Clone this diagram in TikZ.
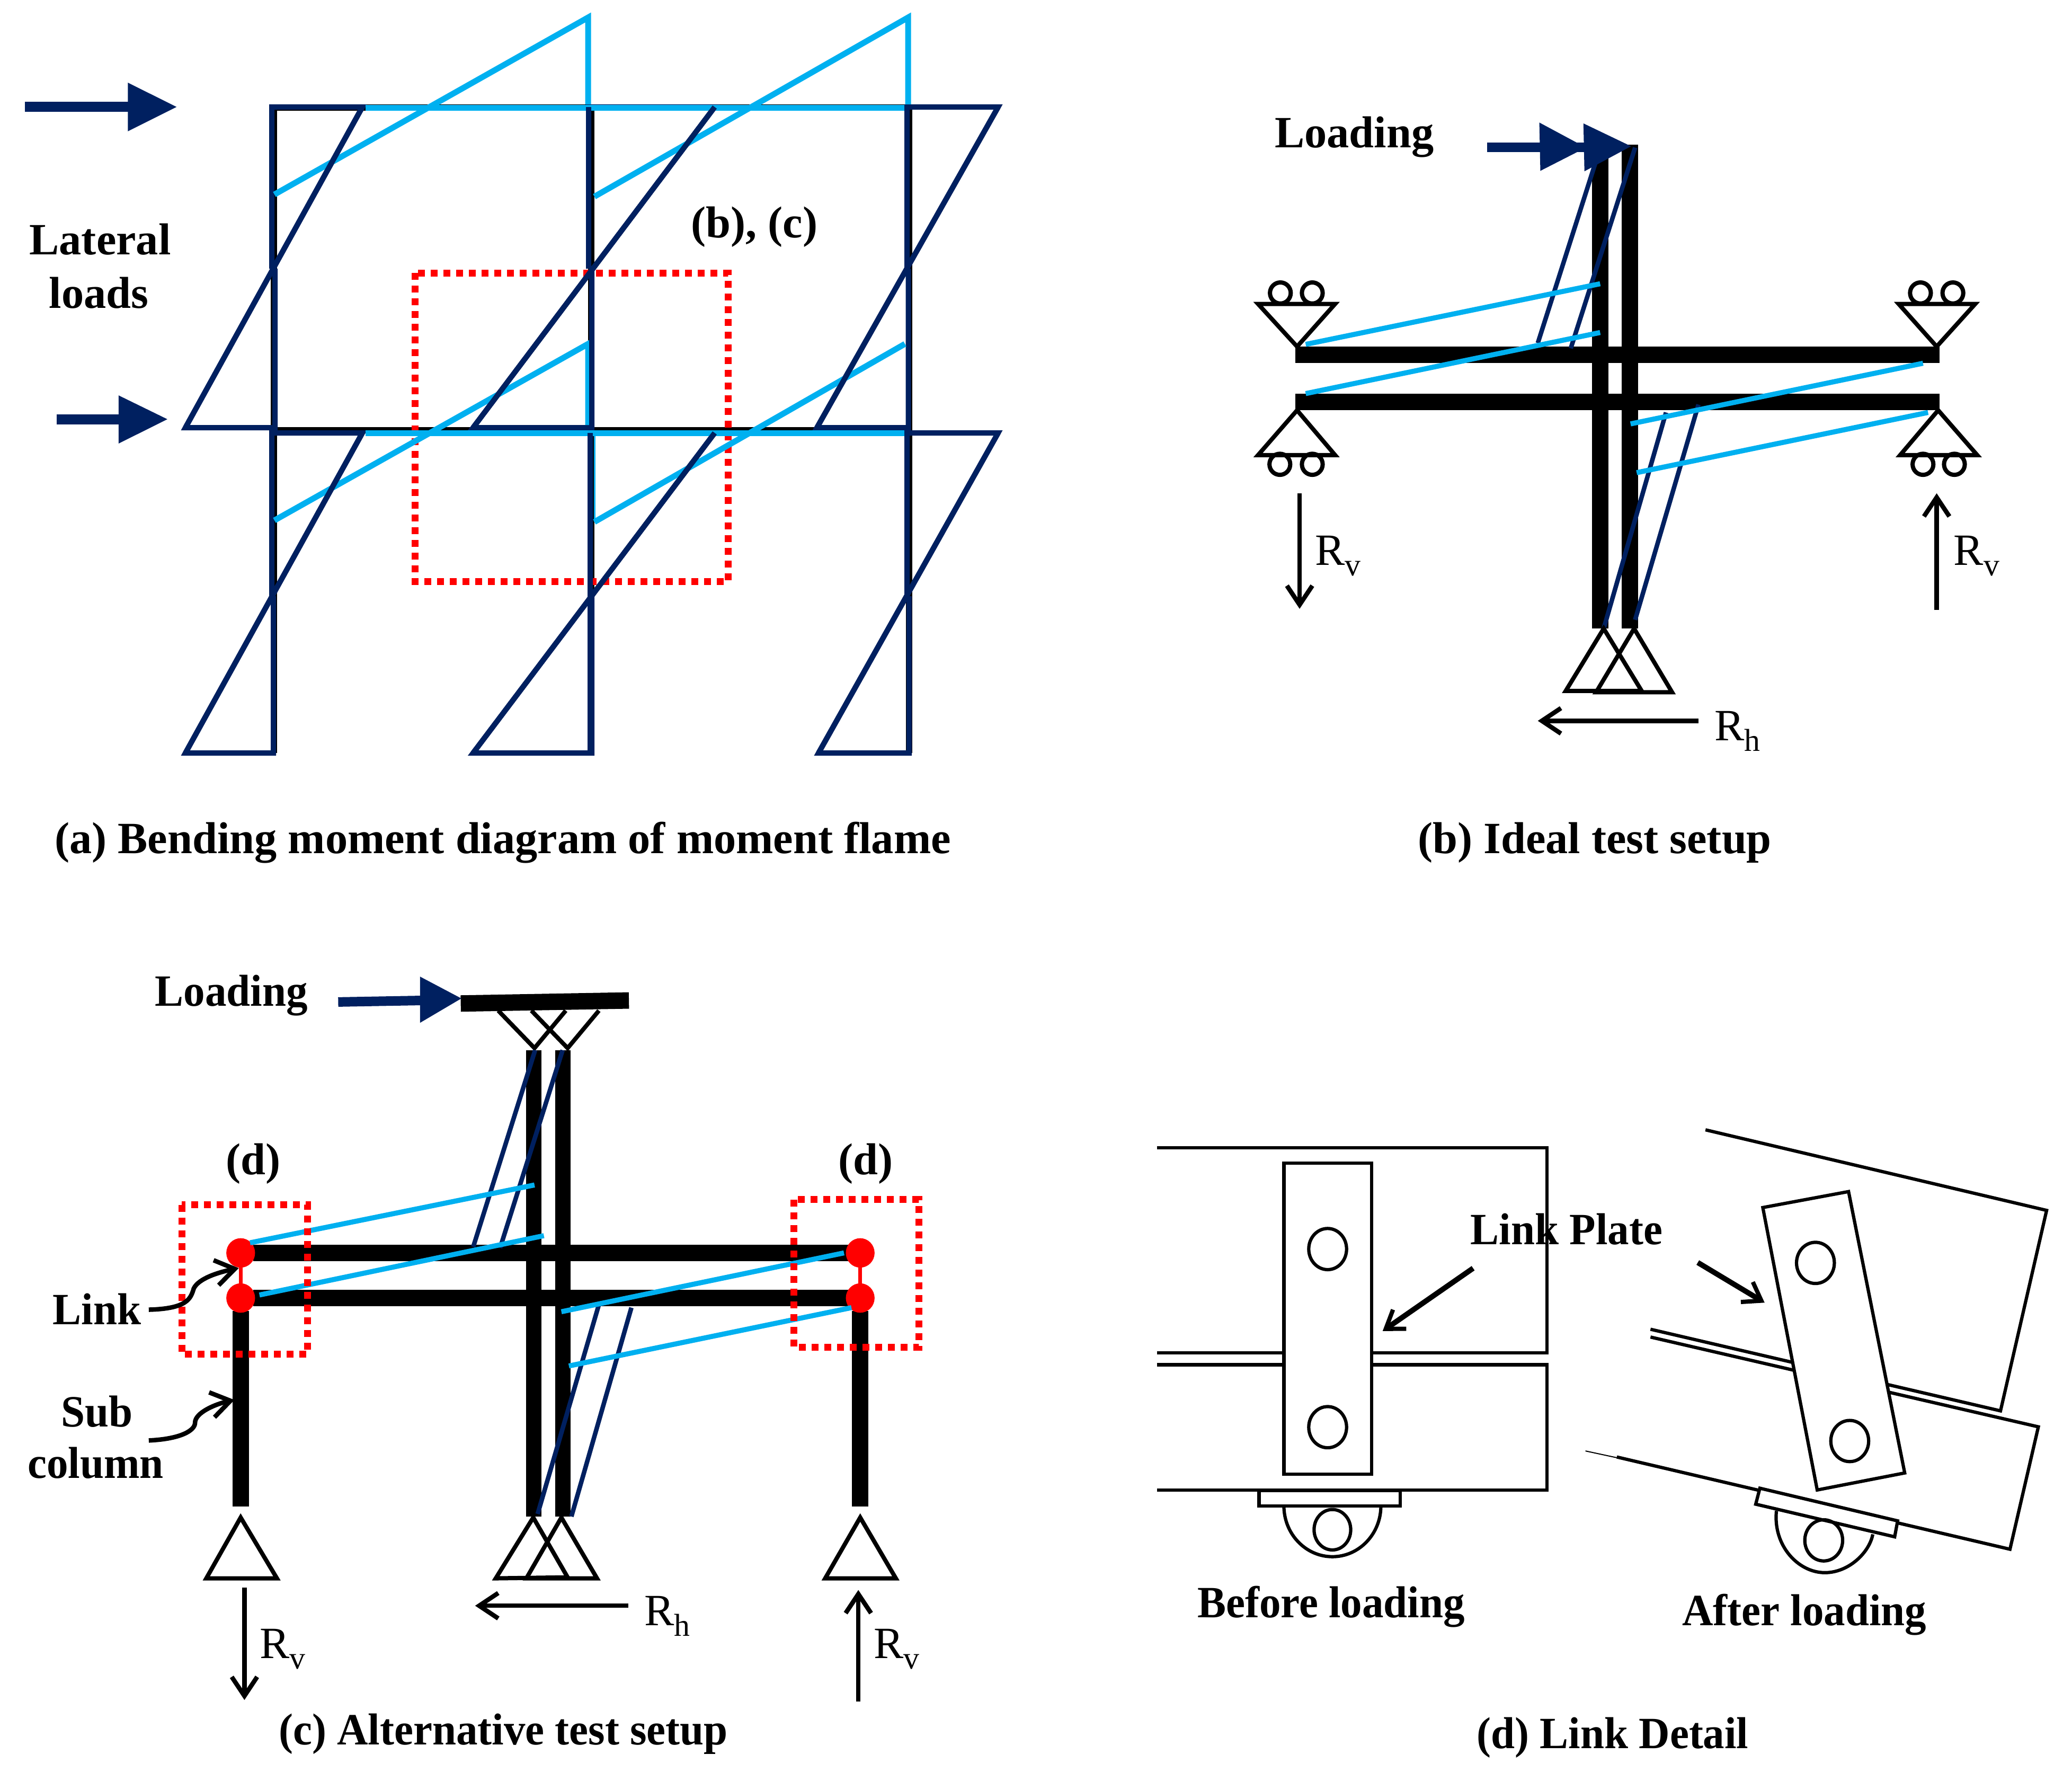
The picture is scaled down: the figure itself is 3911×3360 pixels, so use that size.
\documentclass[tikz,border=0pt]{standalone}
\usepackage{fontspec}
\setmainfont{Liberation Serif}
\usetikzlibrary{arrows.meta}
\definecolor{navy}{HTML}{002060}
\definecolor{sky}{HTML}{00B0F0}
\definecolor{redd}{HTML}{FF0000}
\newcommand{\nar}[1]{\scalebox{0.96}[1]{#1}}
\newcommand{\Rsub}[1]{R\raisebox{-2mm}{\fontsize{17}{17}\selectfont #1}}
\tikzset{
  x=0.1mm,y=-0.1mm,
  navyframe/.style={draw=navy,line width=1.0mm,line join=miter},
  navythin/.style={draw=navy,line width=0.85mm},
  skyline/.style={draw=sky,line width=1.1mm},
  skythin/.style={draw=sky,line width=0.95mm},
  blackframe/.style={draw=black,line width=1.2mm},
  beam/.style={draw=black,line width=3.1mm},
  redbox/.style={draw=redd,line width=1.3mm,dash pattern=on 1.3mm off 1.1mm},
  support/.style={draw=black,line width=0.8mm,line join=miter},
  roller/.style={draw=black,line width=0.8mm},
  react/.style={draw=black,line width=0.85mm,-{Straight Barb[length=3.6mm,width=4.8mm,line width=0.85mm]}},
  thinl/.style={draw=black,line width=0.62mm},
  solidhead/.style={fill=navy,draw=none},
  stem/.style={draw=navy,line width=1.8mm},
  captiontext/.style={font=\fontsize{24}{28}\selectfont\bfseries,inner sep=0pt},
  lab/.style={font=\fontsize{24}{28}\selectfont\bfseries,inner sep=0pt},
  reac/.style={font=\fontsize{24}{28}\selectfont,inner sep=0pt,anchor=base west},
}
\begin{document}
\begin{tikzpicture}
\useasboundingbox[fill=white] (0,0) rectangle (3911,3360);

% ---------- panel (a)
\draw[blackframe] (516.5,1421) -- (516.5,203) -- (1715.5,203) -- (1715.5,1421);
\draw[blackframe] (1115.5,203) -- (1115.5,1421);
\draw[blackframe] (516.5,812) -- (1715.5,812);
\draw[redbox] (783.5,515) rectangle (1374,1097.5);
% moment shapes
\draw[navyframe] (513,507) -- (513,202) -- (684,202) -- (350,807) -- (519,807) -- (519,507);
\draw[navyframe] (1111,507) -- (1111,202) -- (1349,202) -- (893,807) -- (1117,807) -- (1117,507);
\draw[navyframe] (1712,507) -- (1712,202) -- (1884,202) -- (1542,807) -- (1714.5,807) -- (1714.5,507);
\draw[navyframe] (513,1125) -- (513,817) -- (684,817) -- (350,1421) -- (516,1421) -- (516,1125);
\draw[navyframe] (1114,1125) -- (1114,817) -- (1349,817) -- (893,1421) -- (1117,1421) -- (1117,1125);
\draw[navyframe] (1712,1125) -- (1712,817) -- (1884,817) -- (1545,1421) -- (1716,1421) -- (1716,1125);
% light blue shapes
\draw[skyline] (690,203.5) -- (1707,203.5);
\draw[skyline] (690,817.5) -- (1707,817.5);
\draw[skyline] (518,367) -- (1110,33) -- (1110,197);
\draw[skyline] (1122,371) -- (1714,33) -- (1714,197);
\draw[skyline] (518,982) -- (1110,649) -- (1110,802);
\draw[skyline] (1122,985) -- (1708,649);
\draw[draw=sky,line width=0.3mm] (1122.5,823) -- (1122.5,985);
% navy over the light blue
\draw[navyframe] (684,202) -- (350,807);
\draw[navyframe] (1349,202) -- (893,807);
\draw[navyframe] (1884,202) -- (1542,807);
\draw[navyframe] (684,817) -- (350,1421);
\draw[navyframe] (1349,817) -- (893,1421);
\draw[navyframe] (1884,817) -- (1545,1421);
\draw[navyframe] (1111,202) -- (1111,507) (1117,507) -- (1117,807) (1114,817) -- (1114,1421);
\begin{scope}[xscale=1.2436,yscale=0.9566]
  \draw[stem,line width=1.9mm] (38,211) -- (196,211);
  \fill[solidhead] (194,163) -- (268,211) -- (194,259) -- cycle;
  \draw[stem,line width=1.9mm] (86,827) -- (182,827);
  \fill[solidhead] (180,780) -- (254,827) -- (180,875) -- cycle;
  \node[lab] (lat) at (152,472) {Lateral};
  \node[lab] (loads) at (150,578) {loads};
  \node[lab] (bc) at (1145,448) {(b), (c)};
\end{scope}
\node[captiontext] (capa) at (949,1590) {(a) Bending moment diagram of moment flame};

% ---------- panel (b)
\begin{scope}[shift={(2300,150)},xscale=0.9566,yscale=0.829]
  \draw[beam] (152,627) -- (1423,627);
  \draw[beam] (152,734) -- (1423,734);
  \draw[beam] (753,170) -- (753,1250);
  \draw[beam] (812,148) -- (812,1250);
  \draw[stem] (530,155) -- (722,155);
  \fill[solidhead] (633,98) -- (725,155) -- (635,208) -- cycle;
  \fill[solidhead] (720,100) -- (814,152) -- (722,209) -- cycle;
  \draw[navythin] (630,600) -- (745,185);
  \draw[navythin] (695,612) -- (822,155);
  \draw[navythin] (760,1250) -- (883,758);
  \draw[navythin] (822,1230) -- (947,740);
  \draw[skythin] (172,603) -- (753,465);
  \draw[skythin] (172,715) -- (753,576);
  \draw[skythin] (813,784) -- (1390,646);
  \draw[skythin] (825,895) -- (1400,758);
  \draw[support] (78,511) -- (230,511) -- (155,608) -- cycle;
  \draw[support] (155,753) -- (230,855) -- (78,855) -- cycle;
  \draw[support] (1342,511) -- (1493,511) -- (1417,608) -- cycle;
  \draw[support] (1420,753) -- (1497,855) -- (1345,855) -- cycle;
  \foreach \cx/\cy in {122/486,185/486,121/876,185/876,1385/486,1449/486,1390/876,1452/876}
    \draw[roller] (\cx,\cy) circle [x radius=20.5,y radius=24];
  \draw[support] (760,1250) -- (835,1392) -- (685,1392) -- cycle;
  \draw[support] (820,1250) -- (895,1395) -- (745,1395) -- cycle;
  \draw[react] (160,942) -- (160,1205);
  \draw[react] (1417,1208) -- (1417,942);
  \draw[react] (947,1460) -- (630,1460);
  \node[lab] (loadb) at (268,131) {Loading};
  \node[reac] (rvb1) at (190,1105) {\Rsub{v}};
  \node[reac] (rvb2) at (1450,1105) {\Rsub{v}};
  \node[reac] (rhb) at (978,1505) {\Rsub{h}};
\end{scope}
\node[captiontext] (capb) at (3010,1590) {(b) Ideal test setup};

% ---------- panel (c)
\begin{scope}[shift={(0,1800)},xscale=1.18,yscale=0.9566]
  \draw[beam] (737,98) -- (1006,92);
  \draw[support] (797,112) -- (855,186) -- (905,112);
  \draw[support] (850,112) -- (908,186) -- (958,112);
  \draw[stem] (541,95) -- (674,92);
  \fill[solidhead] (672,45) -- (738,88) -- (672,136) -- cycle;
  \draw[beam] (405,590) -- (1365,590);
  \draw[beam] (405,679) -- (1365,679);
  \draw[beam,line width=2.9mm] (854,190) -- (854,1110);
  \draw[beam,line width=2.9mm] (900,190) -- (900,1110);
  \draw[beam] (385,705) -- (385,1090);
  \draw[beam] (1376,705) -- (1376,1090);
  \draw[navythin] (757,578) -- (856,190);
  \draw[navythin] (800,580) -- (900,190);
  \draw[navythin] (860,1105) -- (958,692);
  \draw[navythin] (914,1110) -- (1010,698);
  \draw[redd,line width=0.7mm] (385,590) -- (385,679) (1376,590) -- (1376,679);
  \fill[redd] (385,590) circle [x radius=23,y radius=29];
  \fill[redd] (385,679) circle [x radius=23,y radius=29];
  \fill[redd] (1376,590) circle [x radius=23,y radius=29];
  \fill[redd] (1376,679) circle [x radius=23,y radius=29];
  \draw[skythin] (400,570) -- (855,456);
  \draw[skythin] (415,673) -- (870,556);
  \draw[skythin] (898,706) -- (1350,590);
  \draw[skythin] (910,813) -- (1362,698);
  \draw[redbox] (291,495) rectangle (492,790);
  \draw[redbox] (1270,485) rectangle (1470,776);
  \draw[support] (385,1112) -- (443,1232) -- (330,1232) -- cycle;
  \draw[support] (1376,1112) -- (1433,1232) -- (1320,1232) -- cycle;
  \draw[support] (853,1112) -- (908,1230) -- (793,1232) -- cycle;
  \draw[support] (898,1112) -- (955,1232) -- (842,1232) -- cycle;
  \draw[react] (391,1250) -- (391,1472);
  \draw[react] (1373,1475) -- (1373,1255);
  \draw[react] (1005,1286) -- (760,1286);
  \draw[react] (238,702) .. controls (300,700) and (305,680) .. (310,660) .. controls (318,640) and (350,628) .. (382,620);
  \draw[react] (238,960) .. controls (290,957) and (312,940) .. (312,925) .. controls (312,905) and (345,888) .. (375,880);
  \node[lab] (loadc) at (370,82) {\nar{Loading}};
  \node[lab] (d1) at (405,414) {(d)};
  \node[lab] (d2) at (1385,414) {(d)};
  \node[lab] (link) at (155,701) {\nar{Link}};
  \node[lab] (sub) at (155,903) {\nar{Sub}};
  \node[lab] (column) at (153,1004) {\nar{column}};
  \node[reac] (rvc1) at (415,1390) {\Rsub{v}};
  \node[reac] (rvc2) at (1397,1390) {\Rsub{v}};
  \node[reac] (rhc) at (1030,1325) {\Rsub{h}};
\end{scope}
\node[captiontext] (capc) at (950,3272) {\nar{(c) Alternative test setup}};

% ---------- panel (d)
\begin{scope}[shift={(2150,2100)},xscale=1.116,yscale=0.6696]
  \draw[thinl] (30,98) -- (690,98) -- (690,676) -- (30,676);
  \draw[thinl] (30,710) -- (690,710) -- (690,1063) -- (30,1063);
  \draw[thinl,fill=white] (245,142) rectangle (393,1018);
  \draw[thinl] (319,384) circle [x radius=32,y radius=58];
  \draw[thinl] (319,886) circle [x radius=32,y radius=58];
  \draw[thinl] (245,1108) .. controls (245,1187) and (282,1251) .. (327,1251) .. controls (372,1251) and (409,1187) .. (409,1108);
  \draw[thinl,fill=white] (203,1065) rectangle (442,1108);
  \draw[thinl] (327,1175) circle [x radius=31,y radius=57];
  \draw[react,line width=1mm,-{Straight Barb[length=3.2mm,width=4.4mm,line width=0.8mm]}] (565,438) -- (412,615);
  \draw[react,line width=1mm,-{Straight Barb[length=3.2mm,width=4.4mm,line width=0.8mm]}] (945,422) -- (1058,535);
  \draw[thinl] (958,48) -- (1535,275) -- (1457,840) -- (865,610);
  \draw[thinl] (865,632) -- (1521,885) -- (1473,1230) -- (808,970);
  \draw[draw=black,line width=0.2mm] (808,972) -- (755,953);
  \draw[thinl,fill=white] (1055,267) -- (1200,222) -- (1295,1015) -- (1147,1063) -- cycle;
  \draw[thinl] (1144,423) circle [x radius=32,y radius=58];
  \draw[thinl] (1202,925) circle [x radius=32,y radius=58];
  \draw[thinl] (1078,1122) .. controls (1072,1220) and (1115,1296) .. (1160,1296) .. controls (1200,1296) and (1235,1240) .. (1241,1188);
  \draw[thinl,fill=white] (1050,1058) -- (1283,1150) -- (1278,1195) -- (1043,1103) -- cycle;
  \draw[thinl] (1158,1205) circle [x radius=32,y radius=58];
  \node[lab] (lp) at (723,328) {\nar{Link Plate}};
  \node[lab] (before) at (325,1392) {\nar{Before loading}};
  \node[lab] (after) at (1125,1415) {\nar{After loading}};
\end{scope}
\node[captiontext] (capd) at (3044,3279) {\nar{(d) Link Detail}};
\end{tikzpicture}
\end{document}
